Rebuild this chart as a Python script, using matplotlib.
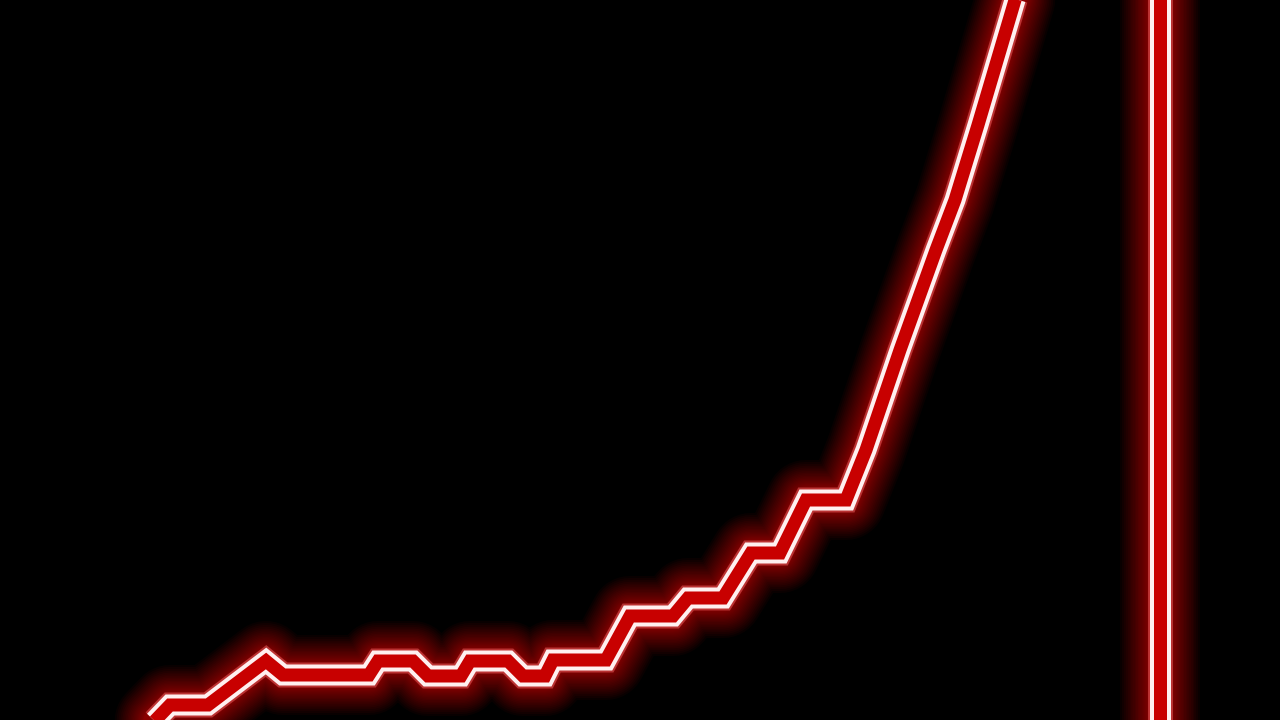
import matplotlib
matplotlib.use("Agg")
import matplotlib.pyplot as plt

# main series (x position, value measured up from the bottom edge)
xs = [146, 170, 208, 266, 283, 369, 378, 413, 428, 461, 470, 508, 523, 545,
      553, 606, 630, 673, 688, 723, 751, 780, 806, 846, 866, 883, 900, 918,
      936, 955, 978, 1015, 1027]
ys = [-10, 15, 15, 59, 45, 45, 59, 59, 44, 44, 59, 59, 44, 44,
      60, 60, 104, 104, 122, 122, 167, 167, 220, 220, 270, 320, 370, 420,
      470, 520, 595, 720, 760]

# vertical marker
marker_x = 1160

RED = "#c80000"
GLOW = "#e00000"
EDGE = "#fff0f0"
PX = 0.72  # points per pixel at dpi 100


def neon(ax, x, y):
    # soft glow: many faint strokes, denser close to the tube
    soft = dict(solid_joinstyle="round", solid_capstyle="round", clip_on=False)
    sharp = dict(solid_joinstyle="miter", solid_capstyle="butt", clip_on=False)
    n = 24
    for i in range(n):
        t = i / (n - 1)
        w = 22 + 58 * t ** 1.6
        ax.plot(x, y, color=GLOW, lw=w * PX, alpha=0.045, **soft)
    ax.plot(x, y, color="#ff7070", lw=25 * PX, alpha=0.45, **sharp)
    ax.plot(x, y, color=EDGE, lw=21 * PX, **sharp)
    ax.plot(x, y, color=RED, lw=13 * PX, **sharp)


fig = plt.figure(figsize=(12.8, 7.2), dpi=100, facecolor="black")
ax = fig.add_axes([0, 0, 1, 1])
ax.set_facecolor("black")

neon(ax, xs, ys)
neon(ax, [marker_x, marker_x], [-60, 780])

ax.set_xlim(0, 1280)
ax.set_ylim(0, 720)
ax.axis("off")

fig.savefig("out.png", dpi=100, facecolor="black")
